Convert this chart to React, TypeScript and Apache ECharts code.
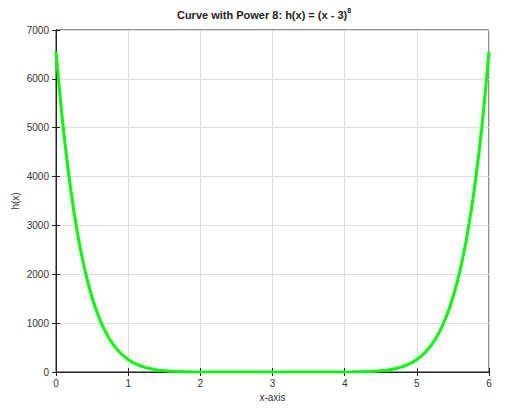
import React, { useEffect, useRef } from 'react';
import * as echarts from 'echarts';

// x samples (step 0.1) and h(x) values
const xValues = [
  0, 0.1, 0.2, 0.3, 0.4, 0.5, 0.6, 0.7, 0.8, 0.9,
  1, 1.1, 1.2, 1.3, 1.4, 1.5, 1.6, 1.7, 1.8, 1.9,
  2, 2.1, 2.2, 2.3, 2.4, 2.5, 2.6, 2.7, 2.8, 2.9,
  3, 3.1, 3.2, 3.3, 3.4, 3.5, 3.6, 3.7, 3.8, 3.9,
  4, 4.1, 4.2, 4.3, 4.4, 4.5, 4.6, 4.7, 4.8, 4.9,
  5, 5.1, 5.2, 5.3, 5.4, 5.5, 5.6, 5.7, 5.8, 5.9, 6,
];
const hValues = [
  6561, 5002.5, 3778, 2824.3, 2088.3, 1525.9, 1100.8, 783.1, 548.8, 378.2,
  256, 169.8, 110.2, 69.8, 43, 25.6, 14.8, 8.2, 4.3, 2.1,
  1, 0.43, 0.17, 0.06, 0.02, 0, 0, 0, 0, 0,
  0, 0, 0, 0, 0, 0, 0, 0.06, 0.17, 0.43,
  1, 2.1, 4.3, 8.2, 14.8, 25.6, 43, 69.8, 110.2, 169.8,
  256, 378.2, 548.8, 783.1, 1100.8, 1525.9, 2088.3, 2824.3, 3778, 5002.5, 6561,
];
const xTicks = [0, 1, 2, 3, 4, 5, 6];
const yTicks = [0, 1000, 2000, 3000, 4000, 5000, 6000, 7000];

const FONT = '"Liberation Sans", Arial, sans-serif';

const App: React.FC = () => {
  const chartRef = useRef<HTMLDivElement>(null);

  useEffect(() => {
    document.body.style.margin = '0';
    if (!chartRef.current) return;
    const chart = echarts.init(chartRef.current, undefined, { renderer: 'svg' });

    const tick = { show: true, inside: true, length: 4, lineStyle: { color: '#222' } };
    const line = { show: true, lineStyle: { color: '#222' } };
    const grid = { show: true, lineStyle: { color: '#dcdcdc', width: 1 } };
    const label = { fontFamily: FONT, fontSize: 10, color: '#333', formatter: (v: number) => String(v) };

    const option = {
      animation: false,
      textStyle: { fontFamily: FONT },
      title: {
        text: 'Curve with Power 8: h(x) = (x - 3){sup|8}',
        left: 'center',
        top: 2,
        textStyle: {
          fontFamily: FONT,
          fontSize: 11,
          fontWeight: 'bold',
          color: '#222',
          rich: {
            sup: { fontSize: 7, fontWeight: 'bold', color: '#222', verticalAlign: 'top', padding: [0, 0, 8, 0] },
          },
        },
      },
      grid: {
        left: 56,
        right: 39,
        top: 30,
        bottom: 39,
        outerBoundsMode: 'none',
        containLabel: false,
        show: true,
        borderColor: '#222',
        borderWidth: 1,
      },
      xAxis: [
        {
          type: 'value',
          min: xTicks[0],
          max: xTicks[xTicks.length - 1],
          interval: 1,
          name: 'x-axis',
          nameLocation: 'middle',
          nameGap: 20,
          nameMoveOverlap: false,
          nameTextStyle: { fontFamily: FONT, fontSize: 10, color: '#333' },
          axisLine: line,
          axisTick: tick,
          axisLabel: { ...label, margin: 6 },
          splitLine: grid,
        },
        {
          type: 'value',
          position: 'top',
          min: xTicks[0],
          max: xTicks[xTicks.length - 1],
          interval: 1,
          axisLine: line,
          axisTick: tick,
          axisLabel: { show: false },
          splitLine: { show: false },
        },
      ],
      yAxis: [
        {
          type: 'value',
          min: yTicks[0],
          max: yTicks[yTicks.length - 1],
          interval: 1000,
          name: 'h(x)',
          nameLocation: 'middle',
          nameGap: 36,
          nameMoveOverlap: false,
          nameTextStyle: { fontFamily: FONT, fontSize: 10, color: '#333' },
          axisLine: line,
          axisTick: tick,
          axisLabel: { ...label, margin: 7 },
          splitLine: grid,
        },
        {
          type: 'value',
          position: 'right',
          min: yTicks[0],
          max: yTicks[yTicks.length - 1],
          interval: 1000,
          axisLine: line,
          axisTick: tick,
          axisLabel: { show: false },
          splitLine: { show: false },
        },
      ],
      series: [
        {
          type: 'line',
          data: xValues.map((x, i) => [x, hValues[i]]),
          smooth: true,
          symbol: 'none',
          lineStyle: { color: '#00ff00', width: 3 },
          clip: true,
        },
      ],
    };

    chart.setOption(option);
    return () => {
      chart.dispose();
    };
  }, []);

  return <div ref={chartRef} style={{ width: 528, height: 411 }} />;
};

export default App;
